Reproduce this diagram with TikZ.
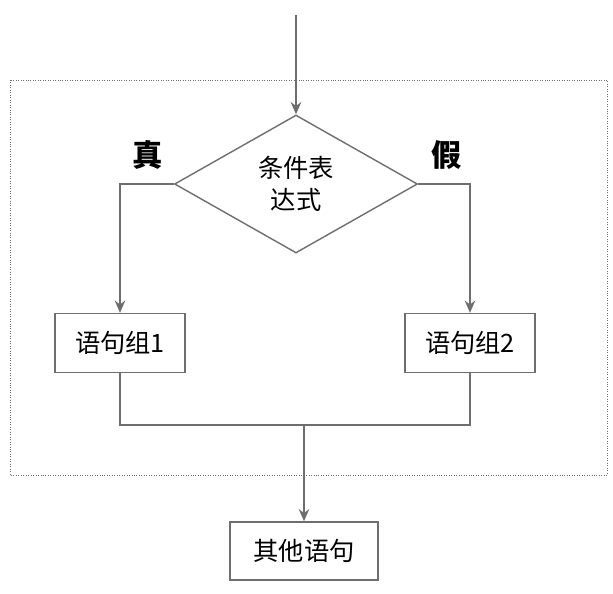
\documentclass[tikz,border=0pt]{standalone}
\usepackage{fontspec}
\setmainfont{Noto Sans CJK SC}
\usetikzlibrary{shapes.geometric,arrows.meta}
\definecolor{linegray}{RGB}{110,110,110}
\begin{document}
\begin{tikzpicture}[x=0.02cm,y=-0.02cm,
	box/.style={draw=linegray,thick,minimum width=2.6cm,minimum height=1.18cm,font=\Large},
	flow/.style={draw=linegray,thick,-{Stealth[length=7pt,width=6pt]}},
	tag/.style={font=\LARGE\bfseries}]
			\useasboundingbox (0,0) rectangle (613,593);
			\draw [densely dotted, linegray] (10,80) rectangle (607,475);
			\coordinate (start) at (296,15);
			\node [diamond, draw=linegray, thick, aspect=1.76, minimum width=4.86cm, minimum height=2.76cm, inner sep=0pt, align=center, font=\Large] (cond) at (296,184) {条件表\\达式};
			\node [box] (grp1) at (120,343) {语句组1};
			\node [box] (grp2) at (470,343) {语句组2};
			\node [box, minimum width=2.96cm, minimum height=1.16cm] (other) at (304,551) {其他语句};
			\node [tag] (yes) at (148,155) {真};
			\node [tag] (no) at (447,155) {假};
			\coordinate (join) at (304,425);
			\draw [flow] (start) -- (cond.north);
			\draw [flow] (cond.west) -| (grp1.north);
			\draw [flow] (cond.east) -| (grp2.north);
			\draw [draw=linegray, thick] (grp1.south) |- (join) -| (grp2.south);
			\draw [flow] (join) -- (other.north);
\end{tikzpicture}
\end{document}
